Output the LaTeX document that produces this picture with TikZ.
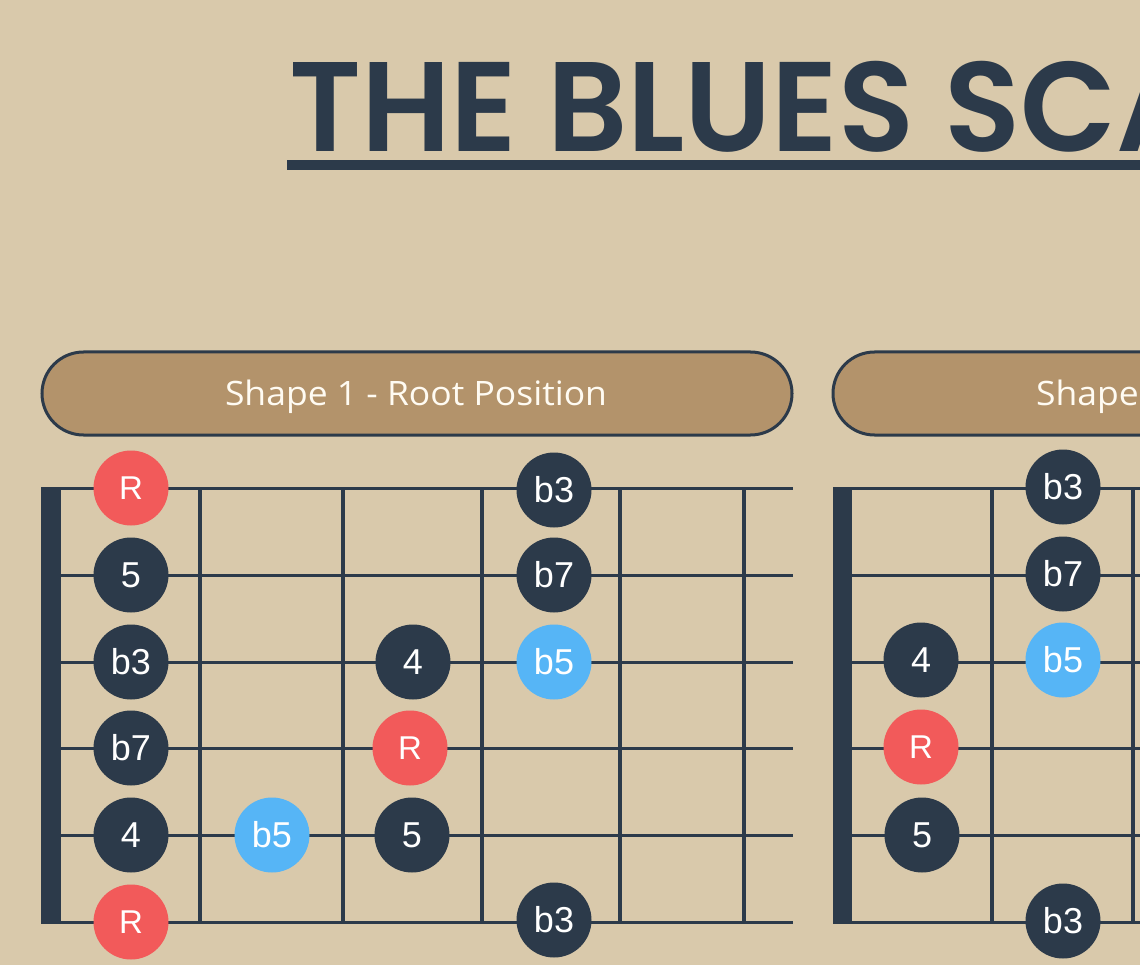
\documentclass[tikz,border=0pt]{standalone}
\usepackage{fontspec}
\usetikzlibrary{shapes.misc}
\newfontfamily\titlefont{Poppins SemiBold}
\newfontfamily\pillfont{Open Sans}
\newfontfamily\notefont{Liberation Sans}
\definecolor{bg}{HTML}{D9C9AB}
\definecolor{ink}{HTML}{2C3A4A}
\definecolor{tan}{HTML}{B3936B}
\definecolor{rootred}{HTML}{F25A5A}
\definecolor{blueb}{HTML}{56B5F6}
\definecolor{pilltext}{HTML}{FFFBF2}
\newsavebox\mybox
\newlength\mylen
\newcommand\titletext[1]{{\titlefont\fontsize{100}{110}\selectfont #1}}
\newcommand\pilltxt[1]{{\pillfont\fontsize{30}{36}\selectfont #1}}
\begin{document}
\sbox\mybox{\titletext{THE BLUES SC}}\setlength\mylen{\wd\mybox}\pgfmathsetmacro\tx{827/\mylen}%
\sbox\mybox{\titletext{H}}\setlength\mylen{\ht\mybox}\pgfmathsetmacro\ty{89/\mylen}%
\sbox\mybox{\pilltxt{Shape 1 - Root Position}}\setlength\mylen{\wd\mybox}\pgfmathsetmacro\px{382/\mylen}%
\sbox\mybox{\pilltxt{H}}\setlength\mylen{\ht\mybox}\pgfmathsetmacro\py{24/\mylen}%
\begin{tikzpicture}[x=1pt,y=-1pt,
  note/.style={circle, minimum size=75pt, inner sep=0pt, fill=ink, text=white,
    font=\notefont\fontsize{36}{40}\selectfont},
  rootnote/.style={note, fill=rootred, font=\notefont\fontsize{33}{38}\selectfont},
  bluenote/.style={note, fill=blueb},
  gstring/.style={draw=ink, line width=3pt},
  fretline/.style={draw=ink, line width=3.5pt},
  nutbar/.style={fill=ink},
  pill/.style={shape=rounded rectangle, draw=ink, line width=3pt, fill=tan,
    minimum width=750pt, minimum height=83pt, inner sep=0pt}]
\useasboundingbox (0,0) rectangle (1140,965);
\clip (0,0) rectangle (1140,965);
\fill[bg] (0,0) rectangle (1140,965);

% ---- title
\node[anchor=base west, inner sep=0pt, text=ink] (title) at (289,152)
  {\scalebox{\tx}[\ty]{\titletext{THE BLUES SCALE}}};
\fill[ink] (287,160) rectangle (1140,170);

% ---- pills
\node[pill] (pillA) at (417,393.5) {};
\node[pill] (pillB) at (1208,393.5) {};
\node[anchor=base, inner sep=0pt, text=pilltext] (labA) at (416,405)
  {\scalebox{\px}[\py]{\pilltxt{Shape 1 - Root Position}}};
\node[anchor=base west, inner sep=0pt, text=pilltext] (labB) at (1036,405)
  {\scalebox{\px}[\py]{\pilltxt{Shape}}};

% ---- fretboard 1
\foreach \y in {488,575,662,748,835,922} \draw[gstring] (61,\y) -- (793,\y);
\foreach \x in {200,343,482,620,744} \draw[fretline] (\x,488) -- (\x,922);
\fill[nutbar] (41,486.5) rectangle (61,923.5);

% ---- fretboard 2
\foreach \y in {488,575,662,748,835,922} \draw[gstring] (852,\y) -- (1140,\y);
\foreach \x in {992,1133} \draw[fretline] (\x,488) -- (\x,922);
\fill[nutbar] (833,486.5) rectangle (852,923.5);

% ---- notes, shape 1
\node[rootnote] (a1) at (131,488) {R};
\node[note]     (a2) at (554,490) {b3};
\node[note]     (a3) at (131,575) {5};
\node[note]     (a4) at (554,575) {b7};
\node[note]     (a5) at (131,662) {b3};
\node[note]     (a6) at (413,662) {4};
\node[bluenote] (a7) at (554,662) {b5};
\node[note]     (a8) at (131,748) {b7};
\node[rootnote] (a9) at (410,748) {R};
\node[note]     (a10) at (131,835) {4};
\node[bluenote] (a11) at (272,835) {b5};
\node[note]     (a12) at (412,835) {5};
\node[rootnote] (a13) at (131,922) {R};
\node[note]     (a14) at (554,920) {b3};

% ---- notes, shape 2
\node[note]     (b1) at (1063,487) {b3};
\node[note]     (b2) at (1063,574) {b7};
\node[note]     (b3) at (921,660) {4};
\node[bluenote] (b4) at (1063,660) {b5};
\node[rootnote] (b5) at (921,747) {R};
\node[note]     (b6) at (922,835) {5};
\node[note]     (b7) at (1063,921) {b3};
\end{tikzpicture}
\end{document}
